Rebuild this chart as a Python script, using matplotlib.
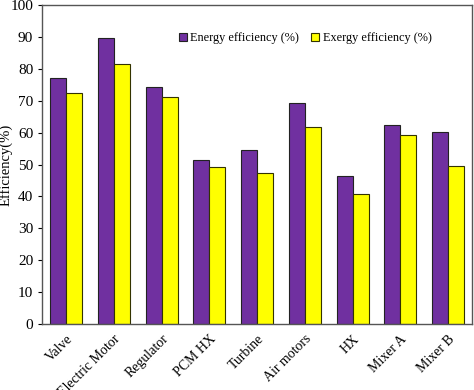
import matplotlib

matplotlib.use("Agg")

import matplotlib.pyplot as plt
import numpy as np

categories = ["Valve", "Electric Motor", "Regulator", "PCM HX", "Turbine",
              "Air motors", "HX", "Mixer A", "Mixer B"]
energy_eff = [77.1, 89.7, 74.3, 51.4, 54.5, 69.3, 46.4, 62.4, 60.2]
exergy_eff = [72.4, 81.5, 71.2, 49.2, 47.3, 61.8, 40.8, 59.2, 49.5]

plt.rcParams["font.family"] = ["Liberation Serif", "DejaVu Serif"]

fig = plt.figure(figsize=(4.74, 3.9), dpi=100)
ax = fig.add_axes([0.089, 0.169, 0.907, 0.818])

x = np.arange(len(categories))
w = 0.335
ax.bar(x - w / 2, energy_eff, w, color="#7030A0", edgecolor="#222222",
       linewidth=0.8, label="Energy efficiency (%)")
ax.bar(x + w / 2, exergy_eff, w, color="#FFFF00", edgecolor="#333300",
       linewidth=0.8, label="Exergy efficiency (%)")

ax.set_xlim(-0.5, len(categories) - 0.5)
ax.set_ylim(0, 100)
ax.set_yticks(range(0, 101, 10))
ax.set_xticks(x)
ax.set_xticklabels(categories, rotation=45, ha="right", rotation_mode="anchor",
                   fontsize=10)
ax.tick_params(axis="y", labelsize=11, length=3, direction="out")
ax.tick_params(axis="x", length=0, pad=6)
ax.set_ylabel("Efficiency(%)", fontsize=10.5)
ax.yaxis.set_label_coords(-0.068, 0.5)

for s in ax.spines.values():
    s.set_color("#555555")
    s.set_linewidth(1.0)

ax.legend(loc="center right", bbox_to_anchor=(0.918, 0.897), ncol=2, frameon=False,
          fontsize=8.8, handlelength=0.65, handleheight=0.65, handletextpad=0.3,
          columnspacing=1.0, borderaxespad=0)

fig.savefig("out.png", dpi=100)
